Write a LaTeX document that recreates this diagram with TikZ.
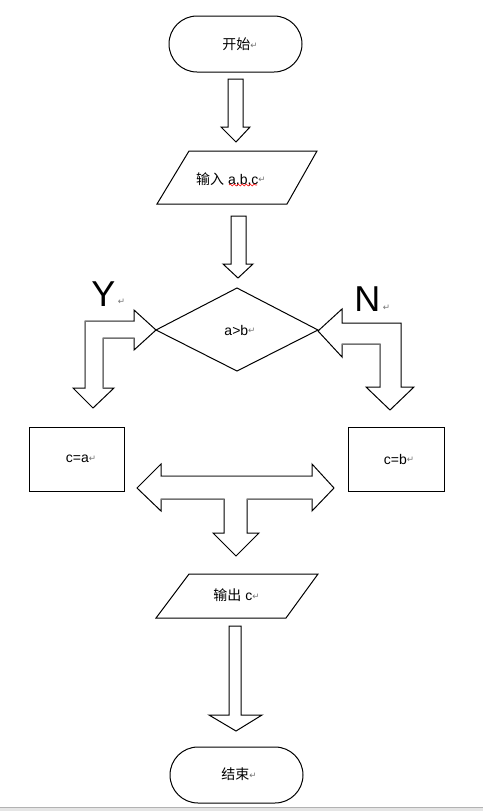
\documentclass[tikz,border=0pt]{standalone}
\usepackage{fontspec}
\setmainfont{Liberation Sans}
\newfontfamily\cjk{Noto Sans CJK SC}
\newfontfamily\dejavu{DejaVu Sans}
\usetikzlibrary{decorations.pathmorphing}
\newcommand\pmk{\raisebox{0.8pt}{\dejavu\fontsize{6.5}{7}\selectfont\color{black!55}↵}}
\begin{document}
\begin{tikzpicture}[x=0.75pt,y=-0.75pt,
  shp/.style={draw=black, line width=0.75pt, fill=white},
  blk/.style={draw=black, line width=0.75pt, fill=white, line join=miter},
  gl/.style={draw=black!55, line width=0.75pt},
  txt/.style={inner sep=0pt, font=\fontsize{10.5}{12}\selectfont},
  big/.style={inner sep=0pt, font=\fontsize{27}{30}\selectfont}]
\useasboundingbox (0,0) rectangle (483,811);
\fill[white] (0,0) rectangle (483,811);
% page edge
\fill[black!10] (0,807) rectangle (483,811);
\draw[black!30, line width=0.75pt] (0,807) -- (483,807);

% shapes
\draw[shp, rounded corners=21pt] (169,16) rectangle (302,72);
\draw[shp] (189,151) -- (317,151) -- (287,204) -- (157,204) -- cycle;
\draw[shp] (237,288) -- (318,330) -- (237,371) -- (156,330) -- cycle;
\draw[shp] (29,427) rectangle (124,491);
\draw[shp] (348,427) rectangle (444,491);
\draw[shp] (189,574) -- (318,574) -- (286,618) -- (156,618) -- cycle;
\draw[shp, rounded corners=21pt] (170,747) rectangle (303,803);

% block arrows
\draw[blk] (228,79) -- (243,79) -- (243,127) -- (250,127) -- (236,142) -- (221,127) -- (228,127) -- cycle;
\draw[blk] (231,216) -- (246,216) -- (246,264) -- (253,264) -- (238,278) -- (223,264) -- (231,264) -- cycle;
\draw[blk] (156,330) -- (134,310) -- (134,321) -- (85,321) -- (85,388) -- (73,388) -- (93,408) -- (114,388) -- (103,388) -- (103,338) -- (134,338) -- (134,350) -- cycle;
\draw[gl] (134,321) -- (85,321) -- (85,388);
\draw[gl] (103,388) -- (103,338) -- (134,338);
\draw[blk] (318,331) -- (342,309) -- (342,323) -- (401,323) -- (401,387) -- (414,387) -- (390,410) -- (366,387) -- (380,387) -- (380,344) -- (342,344) -- (342,357) -- cycle;
\draw[gl] (380,387) -- (380,344) -- (342,344);
\draw[blk] (137,488) -- (161,464) -- (161,476) -- (312,476) -- (312,464) -- (334,488) -- (312,511) -- (312,499) -- (247,499) -- (247,533) -- (259,533) -- (236,556) -- (213,533) -- (224,533) -- (224,499) -- (161,499) -- (161,511) -- cycle;
\draw[gl] (161,476) -- (312,476);
\draw[gl] (312,499) -- (247,499);
\draw[gl] (224,499) -- (161,499);
\draw[blk] (229,626) -- (241,626) -- (241,715) -- (262,715) -- (236,731) -- (209,715) -- (229,715) -- cycle;

% texts
\node[txt] (start) at (240,44) {{\cjk 开始}\pmk};
\node[txt] (input) at (231,179) {{\cjk 输入} a,b,c\pmk};
\draw[red, line width=0.45pt, decorate, decoration={snake, amplitude=0.7pt, segment length=3pt}] (229,185) -- (257,185);
\node[txt] (cond) at (240,330) {a>b\pmk};
\node[txt] (ca) at (81,459) {c=a\pmk};
\node[txt] (cb) at (399,459) {c=b\pmk};
\node[txt] (output) at (236.5,595) {{\cjk 输出} c\pmk};
\node[txt] (end) at (239,774) {{\cjk 结束}\pmk};
\node[big, anchor=base west] (ylab) at (91,306) {Y\hspace{2pt}\pmk};
\node[big, anchor=base west] (nlab) at (354,311.7) {N\hspace{2pt}\pmk};
\end{tikzpicture}
\end{document}
